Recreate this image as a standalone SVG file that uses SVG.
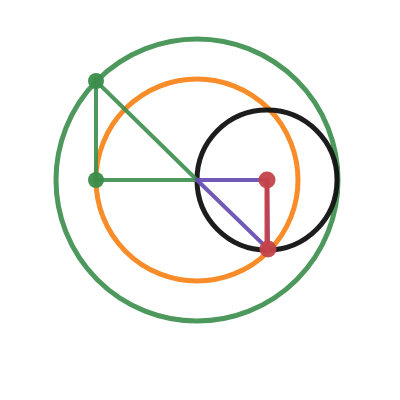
<svg xmlns="http://www.w3.org/2000/svg" width="400" height="400" viewBox="0 0 400 400">
<style>
.c{fill:none}
.g{stroke:#3a8d4a;stroke-opacity:0.9}
.o{stroke:#f7861d;stroke-opacity:0.95}
.k{stroke:#111;stroke-opacity:0.95}
.p{stroke:#6a4fb3;stroke-opacity:0.95}
.r{stroke:#c4424a;stroke-opacity:0.95}
.dg{fill:#3a8d4a;fill-opacity:0.95}
.dr{fill:#c4424a;fill-opacity:0.95}
</style>
<rect width="400" height="400" fill="#fff"/>
<g id="circles">
<circle id="bigGreen" class="c g" cx="197" cy="180" r="141" stroke-width="5"/>
<circle id="orange" class="c o" cx="197" cy="180" r="101" stroke-width="5"/>
<circle id="black" class="c k" cx="267" cy="180" r="70" stroke-width="5"/>
</g>
<g id="connectors" stroke-linecap="round" fill="none">
<polyline class="g" points="197,180 96,81 96,180 197,180" stroke-width="4"/>
<polyline class="p" points="197,180 267,180 268,249 197,180" stroke-width="4"/>
<line class="r" x1="267" y1="180" x2="267" y2="249" stroke-width="5"/>
</g>
<g id="dotA"><circle class="dg" cx="96" cy="81" r="8"/></g>
<g id="dotB"><circle class="dg" cx="96" cy="180" r="8"/></g>
<g id="dotC"><circle class="dr" cx="267" cy="180" r="8.5"/></g>
<g id="dotD"><circle class="dr" cx="268" cy="249" r="8.5"/></g>
</svg>
